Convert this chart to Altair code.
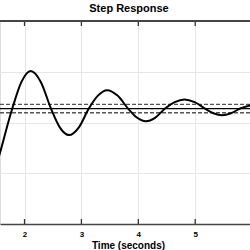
import altair as alt
import pandas as pd

# Step response (time in s, response)
t_vals = [1.45, 1.569, 1.785, 1.946, 2.108, 2.286, 2.465, 2.62, 2.782, 2.956,
          3.13, 3.29, 3.45, 3.635, 3.82, 3.975, 4.13, 4.30, 4.47, 4.64,
          4.81, 4.99, 5.17, 5.32, 5.47, 5.63, 5.79, 5.963, 6.13]
y_vals = [0.37, 0.561, 0.91, 1.12, 1.206, 1.12, 0.91, 0.762, 0.701, 0.762,
          0.91, 1.012, 1.055, 1.012, 0.91, 0.839, 0.81, 0.839, 0.91, 0.96,
          0.981, 0.96, 0.91, 0.873, 0.857, 0.873, 0.91, 0.935, 0.948]

final_value = 0.91
band_values = [0.943, 0.877]
x_ticks = [2, 3, 4, 5]
y_grid = [0.0, 0.2, 0.4, 0.6, 0.8, 1.0, 1.2, 1.4, 1.6]
x_domain = [1.569, 5.963]
y_domain = [0.0, 1.6]

curve = pd.DataFrame({"t": t_vals, "y": y_vals})
bands = pd.DataFrame({"y": band_values})
final = pd.DataFrame({"y": [final_value]})
ticks = pd.DataFrame({"t": x_ticks})

FONT = "Liberation Sans"
xs = alt.Scale(domain=x_domain, nice=False, zero=False)
ys = alt.Scale(domain=y_domain, nice=False, zero=False)

x_axis = alt.Axis(values=x_ticks, format="d", grid=True, gridColor="#e6e6e6",
                  gridWidth=1, ticks=False, tickSize=0, domain=True,
                  domainColor="#444444", domainWidth=1.5, labelFont=FONT,
                  labelFontSize=8, labelFontWeight="bold", labelColor="black",
                  labelPadding=6, title="Time (seconds)", titleFont=FONT,
                  titleFontSize=10, titleFontWeight="bold", titleColor="black",
                  titleX=128, titleY=24, titleBaseline="alphabetic",
                  titleAnchor="middle")
y_axis = alt.Axis(values=y_grid, grid=True, gridColor="#e6e6e6", gridWidth=1,
                  ticks=False, labels=False, domain=False, title=None)

base_curve = alt.Chart(curve).mark_line(
    color="black", strokeWidth=2, clip=True, interpolate="monotone"
).encode(
    x=alt.X("t:Q", scale=xs, axis=x_axis),
    y=alt.Y("y:Q", scale=ys, axis=y_axis),
)

top_axis = alt.Chart(ticks).mark_rule(color="#444444", strokeWidth=1.5).encode(
    x=alt.value(0), x2=alt.value(250), y=alt.value(0)
)

band_rules = alt.Chart(bands).mark_rule(
    color="#555555", strokeWidth=1.3, strokeDash=[4, 2]
).encode(y=alt.Y("y:Q", scale=ys))

final_rule = alt.Chart(final).mark_rule(color="black", strokeWidth=1.3).encode(
    y=alt.Y("y:Q", scale=ys)
)

bottom_ticks = alt.Chart(ticks).mark_rule(color="#333333", strokeWidth=1.3).encode(
    x=alt.X("t:Q", scale=xs), y=alt.value(203), y2=alt.value(198)
)
top_ticks = alt.Chart(ticks).mark_rule(color="#333333", strokeWidth=1.3).encode(
    x=alt.X("t:Q", scale=xs), y=alt.value(0), y2=alt.value(5)
)

chart = alt.layer(
    band_rules, final_rule, base_curve, bottom_ticks, top_ticks, top_axis
).properties(
    width=250,
    height=203,
    title=alt.TitleParams("Step Response", font=FONT, fontSize=11,
                          fontWeight="bold", color="black", dx=4, offset=6,
                          anchor="middle"),
    autosize=alt.AutoSizeParams(type="none"),
    padding={"top": 21, "left": 0, "right": 0, "bottom": 26},
).configure_view(stroke=None).configure(background="white")

chart.save("out.html", embed_options={"renderer": "svg", "actions": False})
